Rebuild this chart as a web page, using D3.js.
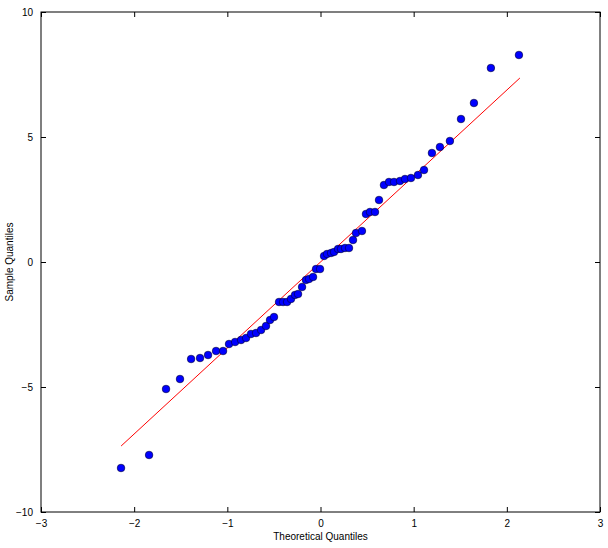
<!DOCTYPE html>
<html><head><meta charset="utf-8">
<script src="https://cdn.jsdelivr.net/npm/d3@7"></script>
<style>body{margin:0;background:#fff}text{font-family:"Liberation Sans",Arial,sans-serif}</style>
</head><body><svg id="c" width="608" height="548"></svg>
<script>
var px = [121,149,166,180,191,200,208,216,223,229,235,241,246,251,256,261,266,270,274,279,283,287,291,295,298,302,306,309,313,316,320,324,327,331,334,338,341,345,349,353,356,362,366,370,375,379,384,389,394,400,405,411,418,424,432,440,450,461,474,491,519]
var theoretical = px.map(p => +((p - 320.5) / 93.2).toFixed(3))
var sample = [-8.24,-7.72,-5.08,-4.68,-3.88,-3.84,-3.72,-3.56,-3.56,-3.28,-3.2,-3.12,-3.04,-2.88,-2.84,-2.72,-2.56,-2.32,-2.2,-1.6,-1.6,-1.6,-1.48,-1.32,-1.28,-1.0,-0.72,-0.68,-0.6,-0.28,-0.28,0.24,0.32,0.36,0.4,0.52,0.52,0.56,0.56,0.88,1.16,1.24,1.92,2.0,2.0,2.48,3.08,3.2,3.2,3.24,3.32,3.36,3.48,3.68,4.36,4.6,4.84,5.72,6.36,7.76,8.28]
var lineX = [-2.14, 2.14]
var lineY = [-7.36, 7.36]
var xTicks = [-3,-2,-1,0,1,2,3]
var yTicks = [-10,-5,0,5,10]

var svg = d3.select('#c')
var L = 41, R = 600, T = 12, B = 512
var x = d3.scaleLinear().domain([-3, 3]).range([L, R])
var y = d3.scaleLinear().domain([-10, 10]).range([B, T])
var fmt = d3.format('d')

var axes = [
  [d3.axisBottom(x).tickSize(-5).tickFormat(fmt), B, 0, xTicks],
  [d3.axisTop(x).tickSize(-5).tickFormat(''), T, 0, xTicks],
  [d3.axisLeft(y).tickSize(-5).tickFormat(fmt), 0, L, yTicks],
  [d3.axisRight(y).tickSize(-5).tickFormat(''), 0, R, yTicks]
]
axes.forEach(([ax, ty, tx, tv]) => {
  var g = svg.append('g').attr('transform', `translate(${tx},${ty})`)
    .call(ax.tickValues(tv).tickPadding(8))
  g.select('.domain').remove()
  g.selectAll('text').attr('font-size', 10).attr('fill', '#000')
})

svg.append('line').attr('stroke', 'red').attr('stroke-width', 1)
  .attr('x1', x(lineX[0])).attr('y1', y(lineY[0])).attr('x2', x(lineX[1])).attr('y2', y(lineY[1]))

svg.append('g').selectAll('circle').data(sample).join('circle')
  .attr('cx', (d, i) => x(theoretical[i])).attr('cy', d => y(d)).attr('r', 3.8)
  .attr('fill', '#0000ff').attr('stroke', '#000033').attr('stroke-width', 0.6)

svg.append('rect').attr('x', L).attr('y', T).attr('width', R - L).attr('height', B - T)
  .attr('fill', 'none').attr('stroke', '#000').attr('stroke-width', 1)

svg.append('text').attr('x', (L + R) / 2).attr('y', 540).attr('text-anchor', 'middle')
  .attr('font-size', 10).text('Theoretical Quantiles')
svg.append('text').attr('transform', `translate(13,${(T + B) / 2}) rotate(-90)`)
  .attr('text-anchor', 'middle').attr('font-size', 10).text('Sample Quantiles')
</script></body></html>
